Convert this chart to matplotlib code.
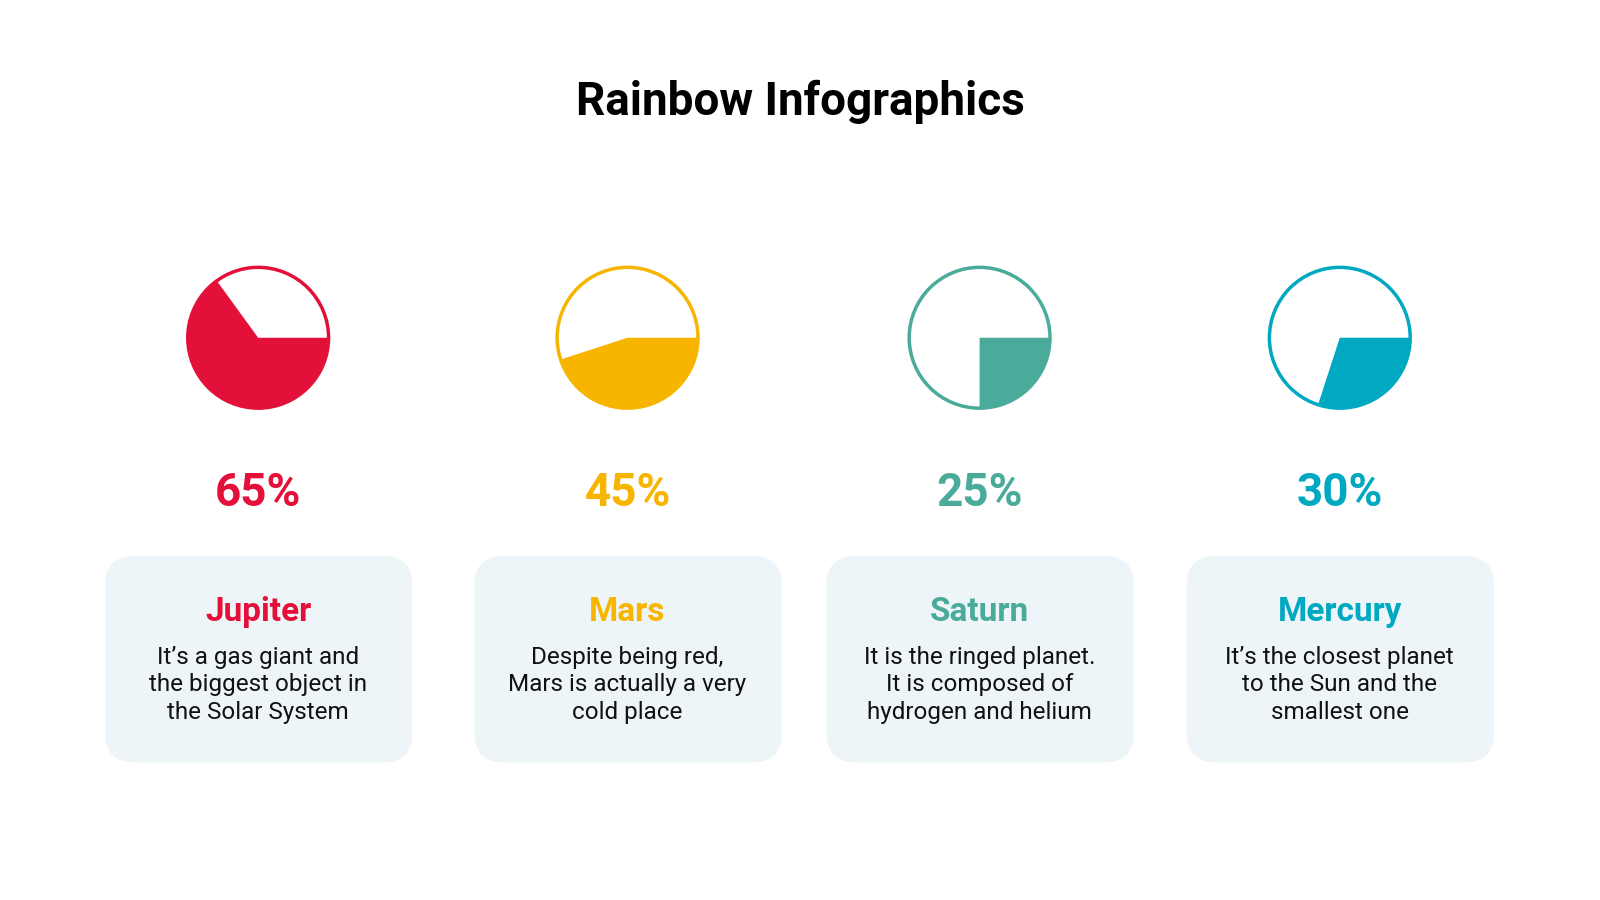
import matplotlib
matplotlib.use("Agg")
import matplotlib.pyplot as plt
from matplotlib.patches import Wedge, Circle, FancyBboxPatch

names = ["Jupiter", "Mars", "Saturn", "Mercury"]
percents = [65, 45, 25, 30]
descriptions = [
    "It\u2019s a gas giant and\nthe biggest object in\nthe Solar System",
    "Despite being red,\nMars is actually a very\ncold place",
    "It is the ringed planet.\nIt is composed of\nhydrogen and helium",
    "It\u2019s the closest planet\nto the Sun and the\nsmallest one",
]
colors = ["#e31039", "#f7b500", "#4aab9a", "#00a9c1"]
centers_x = [253, 615, 960, 1313]

W, H = 1568, 882
fig = plt.figure(figsize=(16, 9), dpi=100)
ax = fig.add_axes([0, 0, 1, 1])
ax.set_xlim(0, W)
ax.set_ylim(H, 0)
ax.axis("off")

ax.text(W / 2, 100, "Rainbow Infographics", ha="center", va="center",
        fontsize=33, fontweight="bold", family="Roboto", fontstretch="condensed", color="black")

r = 69
for cx, p, c, n, d in zip(centers_x, percents, colors, names, descriptions):
    cy = 331
    ax.add_patch(Wedge((cx, cy), r, 0, p * 3.6, facecolor=c, edgecolor="none"))
    ax.add_patch(Circle((cx, cy), r, facecolor="none", edgecolor=c, linewidth=2.5))
    ax.text(cx, 483, f"{p}%", ha="center", va="center", fontsize=33,
            fontweight="bold", family="Roboto", color=c)
    bx = cx - 150
    ax.add_patch(FancyBboxPatch((bx + 28, 545 + 28), 301 - 56, 202 - 56,
                                boxstyle="round,pad=28", facecolor="#eef5f8", edgecolor="none"))
    ax.text(cx, 600, n, ha="center", va="center", fontsize=24,
            fontweight="bold", family="Roboto", color=c)
    ax.text(cx, 671, d, ha="center", va="center", fontsize=17.5,
            family="Roboto", color="#111111", linespacing=1.25)

fig.savefig("out.png", dpi=100, facecolor="white")
